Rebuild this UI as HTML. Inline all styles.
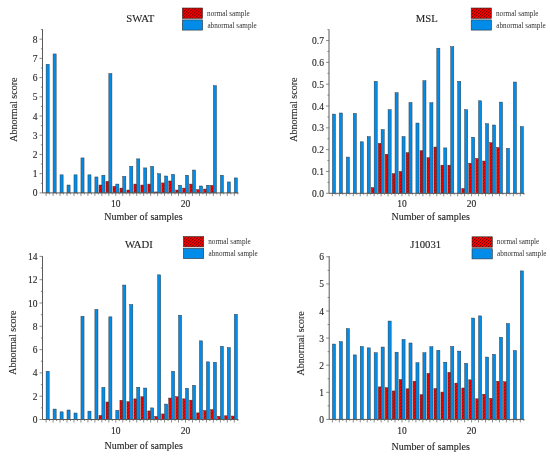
<!DOCTYPE html>
<html><head><meta charset="utf-8"><style>
html,body{margin:0;padding:0;background:#fff;}
svg{display:block;will-change:transform;filter:blur(0.3px);}
text{font-family:"Liberation Serif",serif;fill:#222;stroke:#333;stroke-width:0.12px;}
text.lg{stroke:none;fill:#333;}
</style></head><body>
<svg width="550" height="459" viewBox="0 0 550 459">
<defs>
<pattern id="hatch" patternUnits="userSpaceOnUse" width="2.3" height="2.3" patternTransform="rotate(45)">
<rect width="2.3" height="2.3" fill="#ff0000"/>
<rect width="0.55" height="2.3" fill="#8a0000"/>
</pattern>
<pattern id="hatchL" patternUnits="userSpaceOnUse" width="2.12" height="2.12" patternTransform="rotate(45)">
<rect width="2.12" height="2.12" fill="#ff0000"/>
<rect width="0.65" height="2.12" fill="#500000"/>
</pattern>
</defs>
<rect width="550" height="459" fill="#fff"/>
<g><rect x="46.10" y="64.32" width="3.10" height="128.58" fill="#008ce8" stroke="#333" stroke-width="0.45"/>
<rect x="53.07" y="53.94" width="3.10" height="138.96" fill="#008ce8" stroke="#333" stroke-width="0.45"/>
<rect x="60.04" y="174.83" width="3.10" height="18.07" fill="#008ce8" stroke="#333" stroke-width="0.45"/>
<rect x="67.01" y="185.02" width="3.10" height="7.88" fill="#008ce8" stroke="#333" stroke-width="0.45"/>
<rect x="73.98" y="174.83" width="3.10" height="18.07" fill="#008ce8" stroke="#333" stroke-width="0.45"/>
<rect x="80.95" y="157.92" width="3.10" height="34.98" fill="#008ce8" stroke="#333" stroke-width="0.45"/>
<rect x="87.92" y="174.83" width="3.10" height="18.07" fill="#008ce8" stroke="#333" stroke-width="0.45"/>
<rect x="94.89" y="176.95" width="3.10" height="15.95" fill="#008ce8" stroke="#333" stroke-width="0.45"/>
<rect x="99.01" y="185.02" width="2.85" height="7.88" fill="url(#hatch)" stroke="#333" stroke-width="0.45"/>
<rect x="101.86" y="175.22" width="3.10" height="17.68" fill="#008ce8" stroke="#333" stroke-width="0.45"/>
<rect x="105.98" y="181.37" width="2.85" height="11.53" fill="url(#hatch)" stroke="#333" stroke-width="0.45"/>
<rect x="108.83" y="73.54" width="3.10" height="119.36" fill="#008ce8" stroke="#333" stroke-width="0.45"/>
<rect x="112.95" y="186.37" width="2.85" height="6.53" fill="url(#hatch)" stroke="#333" stroke-width="0.45"/>
<rect x="115.80" y="184.06" width="3.10" height="8.84" fill="#008ce8" stroke="#333" stroke-width="0.45"/>
<rect x="119.92" y="188.09" width="2.85" height="4.80" fill="url(#hatch)" stroke="#333" stroke-width="0.45"/>
<rect x="122.77" y="176.37" width="3.10" height="16.53" fill="#008ce8" stroke="#333" stroke-width="0.45"/>
<rect x="126.89" y="190.02" width="2.85" height="2.88" fill="url(#hatch)" stroke="#333" stroke-width="0.45"/>
<rect x="129.74" y="166.38" width="3.10" height="26.52" fill="#008ce8" stroke="#333" stroke-width="0.45"/>
<rect x="133.86" y="184.06" width="2.85" height="8.84" fill="url(#hatch)" stroke="#333" stroke-width="0.45"/>
<rect x="136.71" y="158.88" width="3.10" height="34.02" fill="#008ce8" stroke="#333" stroke-width="0.45"/>
<rect x="140.83" y="185.02" width="2.85" height="7.88" fill="url(#hatch)" stroke="#333" stroke-width="0.45"/>
<rect x="143.68" y="167.91" width="3.10" height="24.99" fill="#008ce8" stroke="#333" stroke-width="0.45"/>
<rect x="147.80" y="184.06" width="2.85" height="8.84" fill="url(#hatch)" stroke="#333" stroke-width="0.45"/>
<rect x="150.65" y="166.38" width="3.10" height="26.52" fill="#008ce8" stroke="#333" stroke-width="0.45"/>
<rect x="154.77" y="191.94" width="2.85" height="0.96" fill="url(#hatch)" stroke="#333" stroke-width="0.45"/>
<rect x="157.62" y="173.68" width="3.10" height="19.22" fill="#008ce8" stroke="#333" stroke-width="0.45"/>
<rect x="161.74" y="182.91" width="2.85" height="9.99" fill="url(#hatch)" stroke="#333" stroke-width="0.45"/>
<rect x="164.59" y="175.99" width="3.10" height="16.91" fill="#008ce8" stroke="#333" stroke-width="0.45"/>
<rect x="168.71" y="180.98" width="2.85" height="11.92" fill="url(#hatch)" stroke="#333" stroke-width="0.45"/>
<rect x="171.56" y="174.45" width="3.10" height="18.45" fill="#008ce8" stroke="#333" stroke-width="0.45"/>
<rect x="175.68" y="190.02" width="2.85" height="2.88" fill="url(#hatch)" stroke="#333" stroke-width="0.45"/>
<rect x="178.53" y="185.21" width="3.10" height="7.69" fill="#008ce8" stroke="#333" stroke-width="0.45"/>
<rect x="182.65" y="188.09" width="2.85" height="4.80" fill="url(#hatch)" stroke="#333" stroke-width="0.45"/>
<rect x="185.50" y="175.22" width="3.10" height="17.68" fill="#008ce8" stroke="#333" stroke-width="0.45"/>
<rect x="189.62" y="184.06" width="2.85" height="8.84" fill="url(#hatch)" stroke="#333" stroke-width="0.45"/>
<rect x="192.47" y="170.03" width="3.10" height="22.87" fill="#008ce8" stroke="#333" stroke-width="0.45"/>
<rect x="196.59" y="189.63" width="2.85" height="3.27" fill="url(#hatch)" stroke="#333" stroke-width="0.45"/>
<rect x="199.44" y="185.98" width="3.10" height="6.92" fill="#008ce8" stroke="#333" stroke-width="0.45"/>
<rect x="203.56" y="189.06" width="2.85" height="3.84" fill="url(#hatch)" stroke="#333" stroke-width="0.45"/>
<rect x="206.41" y="185.21" width="3.10" height="7.69" fill="#008ce8" stroke="#333" stroke-width="0.45"/>
<rect x="210.53" y="185.40" width="2.85" height="7.50" fill="url(#hatch)" stroke="#333" stroke-width="0.45"/>
<rect x="213.38" y="85.65" width="3.10" height="107.25" fill="#008ce8" stroke="#333" stroke-width="0.45"/>
<rect x="220.35" y="175.22" width="3.10" height="17.68" fill="#008ce8" stroke="#333" stroke-width="0.45"/>
<rect x="227.32" y="181.94" width="3.10" height="10.96" fill="#008ce8" stroke="#333" stroke-width="0.45"/>
<rect x="234.29" y="177.91" width="3.10" height="14.99" fill="#008ce8" stroke="#333" stroke-width="0.45"/>
<path d="M42.50 29.30V192.90H238.40" fill="none" stroke="#5a5a5a" stroke-width="1"/>
<path d="M39.50 192.90H42.50M40.90 183.29H42.50M39.50 173.68H42.50M40.90 164.07H42.50M39.50 154.46H42.50M40.90 144.85H42.50M39.50 135.24H42.50M40.90 125.63H42.50M39.50 116.02H42.50M40.90 106.41H42.50M39.50 96.80H42.50M40.90 87.19H42.50M39.50 77.58H42.50M40.90 67.97H42.50M39.50 58.36H42.50M40.90 48.75H42.50M39.50 39.14H42.50M40.90 29.53H42.50M46.10 192.90V195.90M49.59 192.90V194.40M53.07 192.90V195.90M56.55 192.90V194.40M60.04 192.90V195.90M63.53 192.90V194.40M67.01 192.90V195.90M70.50 192.90V194.40M73.98 192.90V195.90M77.47 192.90V194.40M80.95 192.90V195.90M84.44 192.90V194.40M87.92 192.90V195.90M91.41 192.90V194.40M94.89 192.90V195.90M98.38 192.90V194.40M101.86 192.90V195.90M105.34 192.90V194.40M108.83 192.90V195.90M112.31 192.90V194.40M115.80 192.90V195.90M119.28 192.90V194.40M122.77 192.90V195.90M126.25 192.90V194.40M129.74 192.90V195.90M133.22 192.90V194.40M136.71 192.90V195.90M140.19 192.90V194.40M143.68 192.90V195.90M147.16 192.90V194.40M150.65 192.90V195.90M154.13 192.90V194.40M157.62 192.90V195.90M161.10 192.90V194.40M164.59 192.90V195.90M168.07 192.90V194.40M171.56 192.90V195.90M175.04 192.90V194.40M178.53 192.90V195.90M182.01 192.90V194.40M185.50 192.90V195.90M188.98 192.90V194.40M192.47 192.90V195.90M195.95 192.90V194.40M199.44 192.90V195.90M202.92 192.90V194.40M206.41 192.90V195.90M209.89 192.90V194.40M213.38 192.90V195.90M216.86 192.90V194.40M220.35 192.90V195.90M223.83 192.90V194.40M227.32 192.90V195.90M230.80 192.90V194.40M234.29 192.90V195.90M237.77 192.90V194.40" fill="none" stroke="#5a5a5a" stroke-width="0.7"/>
<text x="37.40" y="196.40" font-size="9.5" text-anchor="end">0</text>
<text x="37.40" y="177.18" font-size="9.5" text-anchor="end">1</text>
<text x="37.40" y="157.96" font-size="9.5" text-anchor="end">2</text>
<text x="37.40" y="138.74" font-size="9.5" text-anchor="end">3</text>
<text x="37.40" y="119.52" font-size="9.5" text-anchor="end">4</text>
<text x="37.40" y="100.30" font-size="9.5" text-anchor="end">5</text>
<text x="37.40" y="81.08" font-size="9.5" text-anchor="end">6</text>
<text x="37.40" y="61.86" font-size="9.5" text-anchor="end">7</text>
<text x="37.40" y="42.64" font-size="9.5" text-anchor="end">8</text>
<text x="115.80" y="206.70" font-size="9.5" text-anchor="middle">10</text>
<text x="185.50" y="206.70" font-size="9.5" text-anchor="middle">20</text>
<text x="143.50" y="220.00" font-size="10" text-anchor="middle">Number of samples</text>
<text x="0" y="0" font-size="10" text-anchor="middle" transform="translate(13.50 109.60) rotate(-90)" dy="3.4">Abnormal score</text>
<text x="140.30" y="22.10" font-size="10.7" text-anchor="middle">SWAT</text>
<rect x="182.30" y="8.00" width="20.3" height="10.4" fill="url(#hatchL)" stroke="#333" stroke-width="0.6"/>
<rect x="182.30" y="19.90" width="20.3" height="10.2" fill="#008ce8" stroke="#333" stroke-width="0.6"/>
<text x="207.10" y="15.60" font-size="7.2" class="lg">normal sample</text>
<text x="207.40" y="27.60" font-size="7.2" class="lg">abnormal sample</text></g>
<g><rect x="332.40" y="114.09" width="3.10" height="79.21" fill="#008ce8" stroke="#333" stroke-width="0.45"/>
<rect x="339.36" y="113.00" width="3.10" height="80.30" fill="#008ce8" stroke="#333" stroke-width="0.45"/>
<rect x="346.32" y="157.08" width="3.10" height="36.22" fill="#008ce8" stroke="#333" stroke-width="0.45"/>
<rect x="353.28" y="113.44" width="3.10" height="79.86" fill="#008ce8" stroke="#333" stroke-width="0.45"/>
<rect x="360.24" y="141.80" width="3.10" height="51.50" fill="#008ce8" stroke="#333" stroke-width="0.45"/>
<rect x="367.20" y="136.57" width="3.10" height="56.73" fill="#008ce8" stroke="#333" stroke-width="0.45"/>
<rect x="371.31" y="187.63" width="2.85" height="5.67" fill="url(#hatch)" stroke="#333" stroke-width="0.45"/>
<rect x="374.16" y="81.36" width="3.10" height="111.94" fill="#008ce8" stroke="#333" stroke-width="0.45"/>
<rect x="378.27" y="143.33" width="2.85" height="49.97" fill="url(#hatch)" stroke="#333" stroke-width="0.45"/>
<rect x="381.12" y="129.59" width="3.10" height="63.71" fill="#008ce8" stroke="#333" stroke-width="0.45"/>
<rect x="385.23" y="154.24" width="2.85" height="39.06" fill="url(#hatch)" stroke="#333" stroke-width="0.45"/>
<rect x="388.08" y="109.73" width="3.10" height="83.57" fill="#008ce8" stroke="#333" stroke-width="0.45"/>
<rect x="392.19" y="173.66" width="2.85" height="19.64" fill="url(#hatch)" stroke="#333" stroke-width="0.45"/>
<rect x="395.04" y="92.71" width="3.10" height="100.59" fill="#008ce8" stroke="#333" stroke-width="0.45"/>
<rect x="399.15" y="171.48" width="2.85" height="21.82" fill="url(#hatch)" stroke="#333" stroke-width="0.45"/>
<rect x="402.00" y="136.57" width="3.10" height="56.73" fill="#008ce8" stroke="#333" stroke-width="0.45"/>
<rect x="406.11" y="152.71" width="2.85" height="40.59" fill="url(#hatch)" stroke="#333" stroke-width="0.45"/>
<rect x="408.96" y="102.53" width="3.10" height="90.77" fill="#008ce8" stroke="#333" stroke-width="0.45"/>
<rect x="415.92" y="123.04" width="3.10" height="70.26" fill="#008ce8" stroke="#333" stroke-width="0.45"/>
<rect x="420.03" y="150.75" width="2.85" height="42.55" fill="url(#hatch)" stroke="#333" stroke-width="0.45"/>
<rect x="422.88" y="80.71" width="3.10" height="112.59" fill="#008ce8" stroke="#333" stroke-width="0.45"/>
<rect x="426.99" y="157.73" width="2.85" height="35.57" fill="url(#hatch)" stroke="#333" stroke-width="0.45"/>
<rect x="429.84" y="102.75" width="3.10" height="90.55" fill="#008ce8" stroke="#333" stroke-width="0.45"/>
<rect x="433.95" y="147.04" width="2.85" height="46.26" fill="url(#hatch)" stroke="#333" stroke-width="0.45"/>
<rect x="436.80" y="48.20" width="3.10" height="145.10" fill="#008ce8" stroke="#333" stroke-width="0.45"/>
<rect x="440.91" y="165.15" width="2.85" height="28.15" fill="url(#hatch)" stroke="#333" stroke-width="0.45"/>
<rect x="443.76" y="147.91" width="3.10" height="45.39" fill="#008ce8" stroke="#333" stroke-width="0.45"/>
<rect x="447.87" y="165.15" width="2.85" height="28.15" fill="url(#hatch)" stroke="#333" stroke-width="0.45"/>
<rect x="450.72" y="46.67" width="3.10" height="146.63" fill="#008ce8" stroke="#333" stroke-width="0.45"/>
<rect x="457.68" y="81.36" width="3.10" height="111.94" fill="#008ce8" stroke="#333" stroke-width="0.45"/>
<rect x="461.79" y="188.50" width="2.85" height="4.80" fill="url(#hatch)" stroke="#333" stroke-width="0.45"/>
<rect x="464.64" y="109.73" width="3.10" height="83.57" fill="#008ce8" stroke="#333" stroke-width="0.45"/>
<rect x="468.75" y="163.19" width="2.85" height="30.11" fill="url(#hatch)" stroke="#333" stroke-width="0.45"/>
<rect x="471.60" y="137.22" width="3.10" height="56.08" fill="#008ce8" stroke="#333" stroke-width="0.45"/>
<rect x="475.71" y="158.39" width="2.85" height="34.91" fill="url(#hatch)" stroke="#333" stroke-width="0.45"/>
<rect x="478.56" y="100.78" width="3.10" height="92.52" fill="#008ce8" stroke="#333" stroke-width="0.45"/>
<rect x="482.67" y="161.01" width="2.85" height="32.29" fill="url(#hatch)" stroke="#333" stroke-width="0.45"/>
<rect x="485.52" y="123.69" width="3.10" height="69.61" fill="#008ce8" stroke="#333" stroke-width="0.45"/>
<rect x="489.63" y="142.68" width="2.85" height="50.62" fill="url(#hatch)" stroke="#333" stroke-width="0.45"/>
<rect x="492.48" y="125.00" width="3.10" height="68.30" fill="#008ce8" stroke="#333" stroke-width="0.45"/>
<rect x="496.59" y="147.48" width="2.85" height="45.82" fill="url(#hatch)" stroke="#333" stroke-width="0.45"/>
<rect x="499.44" y="102.09" width="3.10" height="91.21" fill="#008ce8" stroke="#333" stroke-width="0.45"/>
<rect x="506.40" y="148.35" width="3.10" height="44.95" fill="#008ce8" stroke="#333" stroke-width="0.45"/>
<rect x="513.36" y="82.02" width="3.10" height="111.28" fill="#008ce8" stroke="#333" stroke-width="0.45"/>
<rect x="520.32" y="126.53" width="3.10" height="66.77" fill="#008ce8" stroke="#333" stroke-width="0.45"/>
<path d="M329.00 29.50V193.30H524.40" fill="none" stroke="#5a5a5a" stroke-width="1"/>
<path d="M326.00 193.30H329.00M327.40 182.39H329.00M326.00 171.48H329.00M327.40 160.57H329.00M326.00 149.66H329.00M327.40 138.75H329.00M326.00 127.84H329.00M327.40 116.93H329.00M326.00 106.02H329.00M327.40 95.11H329.00M326.00 84.20H329.00M327.40 73.29H329.00M326.00 62.38H329.00M327.40 51.47H329.00M326.00 40.56H329.00M327.40 29.65H329.00M332.40 193.30V196.30M335.88 193.30V194.80M339.36 193.30V196.30M342.84 193.30V194.80M346.32 193.30V196.30M349.80 193.30V194.80M353.28 193.30V196.30M356.76 193.30V194.80M360.24 193.30V196.30M363.72 193.30V194.80M367.20 193.30V196.30M370.68 193.30V194.80M374.16 193.30V196.30M377.64 193.30V194.80M381.12 193.30V196.30M384.60 193.30V194.80M388.08 193.30V196.30M391.56 193.30V194.80M395.04 193.30V196.30M398.52 193.30V194.80M402.00 193.30V196.30M405.48 193.30V194.80M408.96 193.30V196.30M412.44 193.30V194.80M415.92 193.30V196.30M419.40 193.30V194.80M422.88 193.30V196.30M426.36 193.30V194.80M429.84 193.30V196.30M433.32 193.30V194.80M436.80 193.30V196.30M440.28 193.30V194.80M443.76 193.30V196.30M447.24 193.30V194.80M450.72 193.30V196.30M454.20 193.30V194.80M457.68 193.30V196.30M461.16 193.30V194.80M464.64 193.30V196.30M468.12 193.30V194.80M471.60 193.30V196.30M475.08 193.30V194.80M478.56 193.30V196.30M482.04 193.30V194.80M485.52 193.30V196.30M489.00 193.30V194.80M492.48 193.30V196.30M495.96 193.30V194.80M499.44 193.30V196.30M502.92 193.30V194.80M506.40 193.30V196.30M509.88 193.30V194.80M513.36 193.30V196.30M516.84 193.30V194.80M520.32 193.30V196.30M523.80 193.30V194.80" fill="none" stroke="#5a5a5a" stroke-width="0.7"/>
<text x="323.90" y="196.80" font-size="9.5" text-anchor="end">0.0</text>
<text x="323.90" y="174.98" font-size="9.5" text-anchor="end">0.1</text>
<text x="323.90" y="153.16" font-size="9.5" text-anchor="end">0.2</text>
<text x="323.90" y="131.34" font-size="9.5" text-anchor="end">0.3</text>
<text x="323.90" y="109.52" font-size="9.5" text-anchor="end">0.4</text>
<text x="323.90" y="87.70" font-size="9.5" text-anchor="end">0.5</text>
<text x="323.90" y="65.88" font-size="9.5" text-anchor="end">0.6</text>
<text x="323.90" y="44.06" font-size="9.5" text-anchor="end">0.7</text>
<text x="402.00" y="206.70" font-size="9.5" text-anchor="middle">10</text>
<text x="471.60" y="206.70" font-size="9.5" text-anchor="middle">20</text>
<text x="430.70" y="220.00" font-size="10" text-anchor="middle">Number of samples</text>
<text x="0" y="0" font-size="10" text-anchor="middle" transform="translate(293.50 109.60) rotate(-90)" dy="3.4">Abnormal score</text>
<text x="426.70" y="22.20" font-size="10.7" text-anchor="middle">MSL</text>
<rect x="471.20" y="8.00" width="20.3" height="10.4" fill="url(#hatchL)" stroke="#333" stroke-width="0.6"/>
<rect x="471.20" y="19.90" width="20.3" height="10.2" fill="#008ce8" stroke="#333" stroke-width="0.6"/>
<text x="496.00" y="15.60" font-size="7.2" class="lg">normal sample</text>
<text x="496.30" y="27.60" font-size="7.2" class="lg">abnormal sample</text></g>
<g><rect x="46.10" y="371.24" width="3.10" height="48.26" fill="#008ce8" stroke="#333" stroke-width="0.45"/>
<rect x="53.07" y="409.06" width="3.10" height="10.44" fill="#008ce8" stroke="#333" stroke-width="0.45"/>
<rect x="60.04" y="411.84" width="3.10" height="7.66" fill="#008ce8" stroke="#333" stroke-width="0.45"/>
<rect x="67.01" y="409.99" width="3.10" height="9.51" fill="#008ce8" stroke="#333" stroke-width="0.45"/>
<rect x="73.98" y="413.00" width="3.10" height="6.50" fill="#008ce8" stroke="#333" stroke-width="0.45"/>
<rect x="80.95" y="316.26" width="3.10" height="103.24" fill="#008ce8" stroke="#333" stroke-width="0.45"/>
<rect x="87.92" y="411.15" width="3.10" height="8.35" fill="#008ce8" stroke="#333" stroke-width="0.45"/>
<rect x="94.89" y="309.42" width="3.10" height="110.08" fill="#008ce8" stroke="#333" stroke-width="0.45"/>
<rect x="99.01" y="415.44" width="2.85" height="4.06" fill="url(#hatch)" stroke="#333" stroke-width="0.45"/>
<rect x="101.86" y="387.37" width="3.10" height="32.13" fill="#008ce8" stroke="#333" stroke-width="0.45"/>
<rect x="105.98" y="401.98" width="2.85" height="17.52" fill="url(#hatch)" stroke="#333" stroke-width="0.45"/>
<rect x="108.83" y="316.84" width="3.10" height="102.66" fill="#008ce8" stroke="#333" stroke-width="0.45"/>
<rect x="115.80" y="410.34" width="3.10" height="9.16" fill="#008ce8" stroke="#333" stroke-width="0.45"/>
<rect x="119.92" y="400.24" width="2.85" height="19.26" fill="url(#hatch)" stroke="#333" stroke-width="0.45"/>
<rect x="122.77" y="285.06" width="3.10" height="134.44" fill="#008ce8" stroke="#333" stroke-width="0.45"/>
<rect x="126.89" y="401.75" width="2.85" height="17.75" fill="url(#hatch)" stroke="#333" stroke-width="0.45"/>
<rect x="129.74" y="304.54" width="3.10" height="114.96" fill="#008ce8" stroke="#333" stroke-width="0.45"/>
<rect x="133.86" y="398.85" width="2.85" height="20.65" fill="url(#hatch)" stroke="#333" stroke-width="0.45"/>
<rect x="136.71" y="387.25" width="3.10" height="32.25" fill="#008ce8" stroke="#333" stroke-width="0.45"/>
<rect x="140.83" y="396.76" width="2.85" height="22.74" fill="url(#hatch)" stroke="#333" stroke-width="0.45"/>
<rect x="143.68" y="388.06" width="3.10" height="31.44" fill="#008ce8" stroke="#333" stroke-width="0.45"/>
<rect x="147.80" y="410.92" width="2.85" height="8.58" fill="url(#hatch)" stroke="#333" stroke-width="0.45"/>
<rect x="150.65" y="407.90" width="3.10" height="11.60" fill="#008ce8" stroke="#333" stroke-width="0.45"/>
<rect x="154.77" y="416.48" width="2.85" height="3.02" fill="url(#hatch)" stroke="#333" stroke-width="0.45"/>
<rect x="157.62" y="274.85" width="3.10" height="144.65" fill="#008ce8" stroke="#333" stroke-width="0.45"/>
<rect x="161.74" y="413.93" width="2.85" height="5.57" fill="url(#hatch)" stroke="#333" stroke-width="0.45"/>
<rect x="164.59" y="404.07" width="3.10" height="15.43" fill="#008ce8" stroke="#333" stroke-width="0.45"/>
<rect x="168.71" y="398.04" width="2.85" height="21.46" fill="url(#hatch)" stroke="#333" stroke-width="0.45"/>
<rect x="171.56" y="371.36" width="3.10" height="48.14" fill="#008ce8" stroke="#333" stroke-width="0.45"/>
<rect x="175.68" y="396.65" width="2.85" height="22.85" fill="url(#hatch)" stroke="#333" stroke-width="0.45"/>
<rect x="178.53" y="315.22" width="3.10" height="104.28" fill="#008ce8" stroke="#333" stroke-width="0.45"/>
<rect x="182.65" y="398.85" width="2.85" height="20.65" fill="url(#hatch)" stroke="#333" stroke-width="0.45"/>
<rect x="185.50" y="388.30" width="3.10" height="31.20" fill="#008ce8" stroke="#333" stroke-width="0.45"/>
<rect x="189.62" y="400.13" width="2.85" height="19.37" fill="url(#hatch)" stroke="#333" stroke-width="0.45"/>
<rect x="192.47" y="385.28" width="3.10" height="34.22" fill="#008ce8" stroke="#333" stroke-width="0.45"/>
<rect x="196.59" y="412.89" width="2.85" height="6.61" fill="url(#hatch)" stroke="#333" stroke-width="0.45"/>
<rect x="199.44" y="340.85" width="3.10" height="78.65" fill="#008ce8" stroke="#333" stroke-width="0.45"/>
<rect x="203.56" y="410.57" width="2.85" height="8.93" fill="url(#hatch)" stroke="#333" stroke-width="0.45"/>
<rect x="206.41" y="361.85" width="3.10" height="57.65" fill="#008ce8" stroke="#333" stroke-width="0.45"/>
<rect x="210.53" y="409.64" width="2.85" height="9.86" fill="url(#hatch)" stroke="#333" stroke-width="0.45"/>
<rect x="213.38" y="362.31" width="3.10" height="57.19" fill="#008ce8" stroke="#333" stroke-width="0.45"/>
<rect x="217.50" y="416.25" width="2.85" height="3.25" fill="url(#hatch)" stroke="#333" stroke-width="0.45"/>
<rect x="220.35" y="346.30" width="3.10" height="73.20" fill="#008ce8" stroke="#333" stroke-width="0.45"/>
<rect x="224.47" y="415.79" width="2.85" height="3.71" fill="url(#hatch)" stroke="#333" stroke-width="0.45"/>
<rect x="227.32" y="347.58" width="3.10" height="71.92" fill="#008ce8" stroke="#333" stroke-width="0.45"/>
<rect x="231.44" y="416.02" width="2.85" height="3.48" fill="url(#hatch)" stroke="#333" stroke-width="0.45"/>
<rect x="234.29" y="314.29" width="3.10" height="105.21" fill="#008ce8" stroke="#333" stroke-width="0.45"/>
<path d="M42.50 256.10V419.50H238.40" fill="none" stroke="#5a5a5a" stroke-width="1"/>
<path d="M39.50 419.50H42.50M40.90 407.85H42.50M39.50 396.20H42.50M40.90 384.55H42.50M39.50 372.90H42.50M40.90 361.25H42.50M39.50 349.60H42.50M40.90 337.95H42.50M39.50 326.30H42.50M40.90 314.65H42.50M39.50 303.00H42.50M40.90 291.35H42.50M39.50 279.70H42.50M40.90 268.05H42.50M39.50 256.40H42.50M46.10 419.50V422.50M49.59 419.50V421.00M53.07 419.50V422.50M56.55 419.50V421.00M60.04 419.50V422.50M63.53 419.50V421.00M67.01 419.50V422.50M70.50 419.50V421.00M73.98 419.50V422.50M77.47 419.50V421.00M80.95 419.50V422.50M84.44 419.50V421.00M87.92 419.50V422.50M91.41 419.50V421.00M94.89 419.50V422.50M98.38 419.50V421.00M101.86 419.50V422.50M105.34 419.50V421.00M108.83 419.50V422.50M112.31 419.50V421.00M115.80 419.50V422.50M119.28 419.50V421.00M122.77 419.50V422.50M126.25 419.50V421.00M129.74 419.50V422.50M133.22 419.50V421.00M136.71 419.50V422.50M140.19 419.50V421.00M143.68 419.50V422.50M147.16 419.50V421.00M150.65 419.50V422.50M154.13 419.50V421.00M157.62 419.50V422.50M161.10 419.50V421.00M164.59 419.50V422.50M168.07 419.50V421.00M171.56 419.50V422.50M175.04 419.50V421.00M178.53 419.50V422.50M182.01 419.50V421.00M185.50 419.50V422.50M188.98 419.50V421.00M192.47 419.50V422.50M195.95 419.50V421.00M199.44 419.50V422.50M202.92 419.50V421.00M206.41 419.50V422.50M209.89 419.50V421.00M213.38 419.50V422.50M216.86 419.50V421.00M220.35 419.50V422.50M223.83 419.50V421.00M227.32 419.50V422.50M230.80 419.50V421.00M234.29 419.50V422.50M237.77 419.50V421.00" fill="none" stroke="#5a5a5a" stroke-width="0.7"/>
<text x="37.40" y="423.00" font-size="9.5" text-anchor="end">0</text>
<text x="37.40" y="399.70" font-size="9.5" text-anchor="end">2</text>
<text x="37.40" y="376.40" font-size="9.5" text-anchor="end">4</text>
<text x="37.40" y="353.10" font-size="9.5" text-anchor="end">6</text>
<text x="37.40" y="329.80" font-size="9.5" text-anchor="end">8</text>
<text x="37.40" y="306.50" font-size="9.5" text-anchor="end">10</text>
<text x="37.40" y="283.20" font-size="9.5" text-anchor="end">12</text>
<text x="37.40" y="259.90" font-size="9.5" text-anchor="end">14</text>
<text x="115.80" y="433.50" font-size="9.5" text-anchor="middle">10</text>
<text x="185.50" y="433.50" font-size="9.5" text-anchor="middle">20</text>
<text x="143.70" y="449.20" font-size="10" text-anchor="middle">Number of samples</text>
<text x="0" y="0" font-size="10" text-anchor="middle" transform="translate(12.70 342.70) rotate(-90)" dy="3.4">Abnormal score</text>
<text x="138.90" y="248.00" font-size="10.7" text-anchor="middle">WADI</text>
<rect x="183.40" y="236.50" width="20.3" height="10.4" fill="url(#hatchL)" stroke="#333" stroke-width="0.6"/>
<rect x="183.40" y="248.40" width="20.3" height="10.2" fill="#008ce8" stroke="#333" stroke-width="0.6"/>
<text x="208.20" y="244.10" font-size="7.2" class="lg">normal sample</text>
<text x="208.50" y="256.10" font-size="7.2" class="lg">abnormal sample</text></g>
<g><rect x="332.40" y="344.06" width="3.10" height="75.34" fill="#008ce8" stroke="#333" stroke-width="0.45"/>
<rect x="339.36" y="341.62" width="3.10" height="77.78" fill="#008ce8" stroke="#333" stroke-width="0.45"/>
<rect x="346.32" y="328.61" width="3.10" height="90.79" fill="#008ce8" stroke="#333" stroke-width="0.45"/>
<rect x="353.28" y="354.90" width="3.10" height="64.50" fill="#008ce8" stroke="#333" stroke-width="0.45"/>
<rect x="360.24" y="346.50" width="3.10" height="72.90" fill="#008ce8" stroke="#333" stroke-width="0.45"/>
<rect x="367.20" y="347.86" width="3.10" height="71.54" fill="#008ce8" stroke="#333" stroke-width="0.45"/>
<rect x="374.16" y="352.73" width="3.10" height="66.67" fill="#008ce8" stroke="#333" stroke-width="0.45"/>
<rect x="378.27" y="386.88" width="2.85" height="32.52" fill="url(#hatch)" stroke="#333" stroke-width="0.45"/>
<rect x="381.12" y="347.04" width="3.10" height="72.36" fill="#008ce8" stroke="#333" stroke-width="0.45"/>
<rect x="385.23" y="387.69" width="2.85" height="31.71" fill="url(#hatch)" stroke="#333" stroke-width="0.45"/>
<rect x="388.08" y="321.03" width="3.10" height="98.37" fill="#008ce8" stroke="#333" stroke-width="0.45"/>
<rect x="392.19" y="390.94" width="2.85" height="28.46" fill="url(#hatch)" stroke="#333" stroke-width="0.45"/>
<rect x="395.04" y="352.19" width="3.10" height="67.21" fill="#008ce8" stroke="#333" stroke-width="0.45"/>
<rect x="399.15" y="379.56" width="2.85" height="39.84" fill="url(#hatch)" stroke="#333" stroke-width="0.45"/>
<rect x="402.00" y="339.45" width="3.10" height="79.95" fill="#008ce8" stroke="#333" stroke-width="0.45"/>
<rect x="406.11" y="388.78" width="2.85" height="30.62" fill="url(#hatch)" stroke="#333" stroke-width="0.45"/>
<rect x="408.96" y="342.98" width="3.10" height="76.42" fill="#008ce8" stroke="#333" stroke-width="0.45"/>
<rect x="413.07" y="381.19" width="2.85" height="38.21" fill="url(#hatch)" stroke="#333" stroke-width="0.45"/>
<rect x="415.92" y="362.76" width="3.10" height="56.64" fill="#008ce8" stroke="#333" stroke-width="0.45"/>
<rect x="420.03" y="394.74" width="2.85" height="24.66" fill="url(#hatch)" stroke="#333" stroke-width="0.45"/>
<rect x="422.88" y="352.73" width="3.10" height="66.67" fill="#008ce8" stroke="#333" stroke-width="0.45"/>
<rect x="426.99" y="373.33" width="2.85" height="46.07" fill="url(#hatch)" stroke="#333" stroke-width="0.45"/>
<rect x="429.84" y="346.77" width="3.10" height="72.63" fill="#008ce8" stroke="#333" stroke-width="0.45"/>
<rect x="433.95" y="388.51" width="2.85" height="30.89" fill="url(#hatch)" stroke="#333" stroke-width="0.45"/>
<rect x="436.80" y="350.29" width="3.10" height="69.11" fill="#008ce8" stroke="#333" stroke-width="0.45"/>
<rect x="440.91" y="392.03" width="2.85" height="27.37" fill="url(#hatch)" stroke="#333" stroke-width="0.45"/>
<rect x="443.76" y="362.22" width="3.10" height="57.18" fill="#008ce8" stroke="#333" stroke-width="0.45"/>
<rect x="447.87" y="372.25" width="2.85" height="47.15" fill="url(#hatch)" stroke="#333" stroke-width="0.45"/>
<rect x="450.72" y="346.50" width="3.10" height="72.90" fill="#008ce8" stroke="#333" stroke-width="0.45"/>
<rect x="454.83" y="383.09" width="2.85" height="36.31" fill="url(#hatch)" stroke="#333" stroke-width="0.45"/>
<rect x="457.68" y="351.11" width="3.10" height="68.29" fill="#008ce8" stroke="#333" stroke-width="0.45"/>
<rect x="461.79" y="387.96" width="2.85" height="31.44" fill="url(#hatch)" stroke="#333" stroke-width="0.45"/>
<rect x="464.64" y="363.30" width="3.10" height="56.10" fill="#008ce8" stroke="#333" stroke-width="0.45"/>
<rect x="468.75" y="379.83" width="2.85" height="39.57" fill="url(#hatch)" stroke="#333" stroke-width="0.45"/>
<rect x="471.60" y="318.05" width="3.10" height="101.35" fill="#008ce8" stroke="#333" stroke-width="0.45"/>
<rect x="475.71" y="398.80" width="2.85" height="20.60" fill="url(#hatch)" stroke="#333" stroke-width="0.45"/>
<rect x="478.56" y="315.88" width="3.10" height="103.52" fill="#008ce8" stroke="#333" stroke-width="0.45"/>
<rect x="482.67" y="394.20" width="2.85" height="25.20" fill="url(#hatch)" stroke="#333" stroke-width="0.45"/>
<rect x="485.52" y="357.07" width="3.10" height="62.33" fill="#008ce8" stroke="#333" stroke-width="0.45"/>
<rect x="489.63" y="398.26" width="2.85" height="21.14" fill="url(#hatch)" stroke="#333" stroke-width="0.45"/>
<rect x="492.48" y="354.36" width="3.10" height="65.04" fill="#008ce8" stroke="#333" stroke-width="0.45"/>
<rect x="496.59" y="381.19" width="2.85" height="38.21" fill="url(#hatch)" stroke="#333" stroke-width="0.45"/>
<rect x="499.44" y="337.29" width="3.10" height="82.11" fill="#008ce8" stroke="#333" stroke-width="0.45"/>
<rect x="503.55" y="381.73" width="2.85" height="37.67" fill="url(#hatch)" stroke="#333" stroke-width="0.45"/>
<rect x="506.40" y="323.47" width="3.10" height="95.93" fill="#008ce8" stroke="#333" stroke-width="0.45"/>
<rect x="513.36" y="350.57" width="3.10" height="68.83" fill="#008ce8" stroke="#333" stroke-width="0.45"/>
<rect x="520.32" y="270.89" width="3.10" height="148.51" fill="#008ce8" stroke="#333" stroke-width="0.45"/>
<path d="M329.20 256.10V419.40H524.40" fill="none" stroke="#5a5a5a" stroke-width="1"/>
<path d="M326.20 419.40H329.20M327.60 405.85H329.20M326.20 392.30H329.20M327.60 378.75H329.20M326.20 365.20H329.20M327.60 351.65H329.20M326.20 338.10H329.20M327.60 324.55H329.20M326.20 311.00H329.20M327.60 297.45H329.20M326.20 283.90H329.20M327.60 270.35H329.20M326.20 256.80H329.20M332.40 419.40V422.40M335.88 419.40V420.90M339.36 419.40V422.40M342.84 419.40V420.90M346.32 419.40V422.40M349.80 419.40V420.90M353.28 419.40V422.40M356.76 419.40V420.90M360.24 419.40V422.40M363.72 419.40V420.90M367.20 419.40V422.40M370.68 419.40V420.90M374.16 419.40V422.40M377.64 419.40V420.90M381.12 419.40V422.40M384.60 419.40V420.90M388.08 419.40V422.40M391.56 419.40V420.90M395.04 419.40V422.40M398.52 419.40V420.90M402.00 419.40V422.40M405.48 419.40V420.90M408.96 419.40V422.40M412.44 419.40V420.90M415.92 419.40V422.40M419.40 419.40V420.90M422.88 419.40V422.40M426.36 419.40V420.90M429.84 419.40V422.40M433.32 419.40V420.90M436.80 419.40V422.40M440.28 419.40V420.90M443.76 419.40V422.40M447.24 419.40V420.90M450.72 419.40V422.40M454.20 419.40V420.90M457.68 419.40V422.40M461.16 419.40V420.90M464.64 419.40V422.40M468.12 419.40V420.90M471.60 419.40V422.40M475.08 419.40V420.90M478.56 419.40V422.40M482.04 419.40V420.90M485.52 419.40V422.40M489.00 419.40V420.90M492.48 419.40V422.40M495.96 419.40V420.90M499.44 419.40V422.40M502.92 419.40V420.90M506.40 419.40V422.40M509.88 419.40V420.90M513.36 419.40V422.40M516.84 419.40V420.90M520.32 419.40V422.40M523.80 419.40V420.90" fill="none" stroke="#5a5a5a" stroke-width="0.7"/>
<text x="324.10" y="422.90" font-size="9.5" text-anchor="end">0</text>
<text x="324.10" y="395.80" font-size="9.5" text-anchor="end">1</text>
<text x="324.10" y="368.70" font-size="9.5" text-anchor="end">2</text>
<text x="324.10" y="341.60" font-size="9.5" text-anchor="end">3</text>
<text x="324.10" y="314.50" font-size="9.5" text-anchor="end">4</text>
<text x="324.10" y="287.40" font-size="9.5" text-anchor="end">5</text>
<text x="324.10" y="260.30" font-size="9.5" text-anchor="end">6</text>
<text x="402.00" y="433.50" font-size="9.5" text-anchor="middle">10</text>
<text x="471.60" y="433.50" font-size="9.5" text-anchor="middle">20</text>
<text x="430.70" y="449.50" font-size="10" text-anchor="middle">Number of samples</text>
<text x="0" y="0" font-size="10" text-anchor="middle" transform="translate(300.60 343.30) rotate(-90)" dy="3.4">Abnormal score</text>
<text x="425.70" y="248.30" font-size="10.7" text-anchor="middle">J10031</text>
<rect x="472.00" y="236.80" width="20.3" height="10.4" fill="url(#hatchL)" stroke="#333" stroke-width="0.6"/>
<rect x="472.00" y="248.70" width="20.3" height="10.2" fill="#008ce8" stroke="#333" stroke-width="0.6"/>
<text x="496.80" y="244.40" font-size="7.2" class="lg">normal sample</text>
<text x="497.10" y="256.40" font-size="7.2" class="lg">abnormal sample</text></g>
</svg>
</body></html>
